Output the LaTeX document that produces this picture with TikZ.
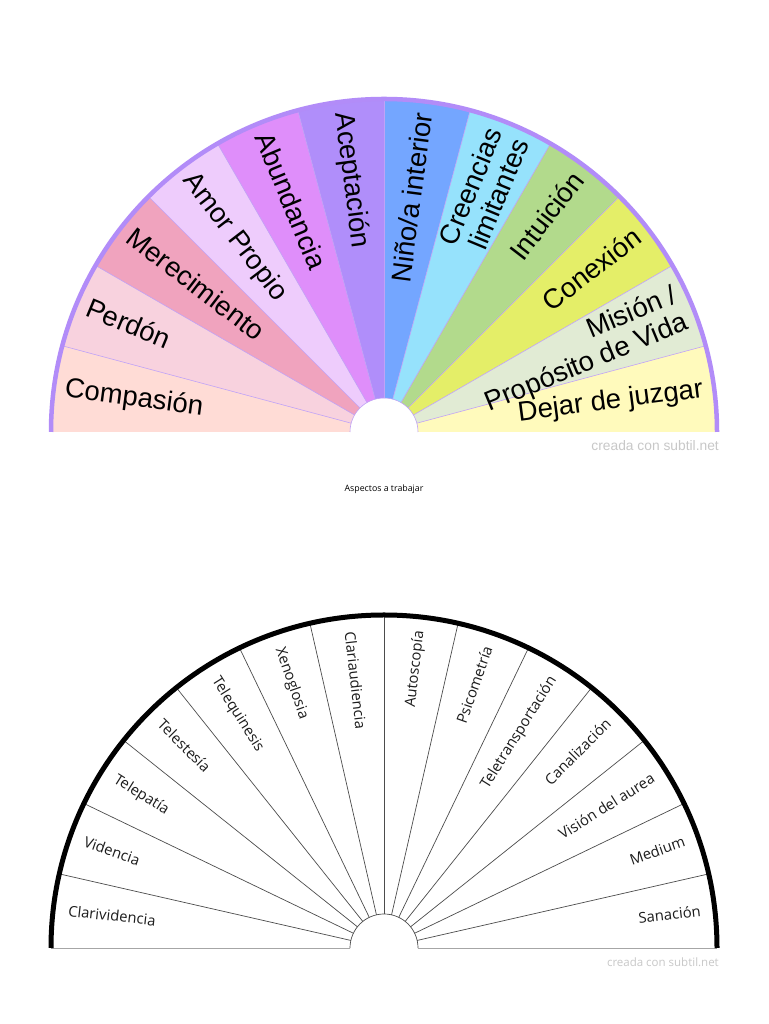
\documentclass[tikz,border=0pt]{standalone}
\usepackage{fontspec}
\setmainfont{Liberation Sans}
\newfontfamily\osans{Open Sans}
\definecolor{c1}{RGB}{255,220,214}
\definecolor{c2}{RGB}{248,210,222}
\definecolor{c3}{RGB}{240,163,190}
\definecolor{c4}{RGB}{238,204,252}
\definecolor{c5}{RGB}{223,142,250}
\definecolor{c6}{RGB}{176,142,250}
\definecolor{c7}{RGB}{116,166,255}
\definecolor{c8}{RGB}{150,226,252}
\definecolor{c9}{RGB}{178,218,140}
\definecolor{c10}{RGB}{228,238,104}
\definecolor{c11}{RGB}{225,235,212}
\definecolor{c12}{RGB}{255,250,188}
\definecolor{lavborder}{RGB}{178,140,248}
\definecolor{lavline}{RGB}{192,162,246}
\definecolor{wmgray}{RGB}{200,200,200}
\definecolor{lblgray}{RGB}{28,28,28}
\begin{document}
\begin{tikzpicture}[x=1pt,y=1pt,
  toplbl/.style={font=\fontsize{27.5}{30}\selectfont, inner sep=0pt, text height=20pt, text depth=6pt},
  toplbltwo/.style={font=\fontsize{27.5}{29}\selectfont, inner sep=0pt, align=right},
  botlbl/.style={font=\osans\fontsize{14.8}{16}\selectfont, text=lblgray, inner sep=0pt, text height=11pt, text depth=3.5pt},
  sepline/.style={lavline, line width=0.6pt},
  gline/.style={black!70, line width=0.7pt},
  watermark/.style={text=wmgray, inner sep=0pt}]
\useasboundingbox (0,0) rectangle (768,1024);
\fill[white] (0,0) rectangle (768,1024);

% ---------- top chart ----------
\begin{scope}[shift={(384,592)}]
\foreach \i/\c in {0/c1,1/c2,2/c3,3/c4,4/c5,5/c6,6/c7,7/c8,8/c9,9/c10,10/c11,11/c12}{
  \pgfmathsetmacro\a{180-15*\i}
  \pgfmathsetmacro\b{165-15*\i}
  \fill[\c] (\b:34) -- (\b:333) arc[start angle=\b,end angle=\a,radius=333] -- (\a:34) arc[start angle=\a,end angle=\b,radius=34] -- cycle;
}
\foreach \k in {1,...,11} \draw[sepline] ({15*\k}:34) -- ({15*\k}:333);
\draw[sepline] (0:34) arc[start angle=0,end angle=180,radius=34];
\draw[lavborder, line width=4.5pt] (0:333) arc[start angle=0,end angle=180,radius=333];

\node[toplbl, rotate=-7.5, anchor=west] (compasion) at (172.5:322) {Compasión};
\node[toplbl, rotate=-22.5, anchor=west] (perdon) at (157.5:322) {Perdón};
\node[toplbl, rotate=-37.5, anchor=west] (merecimiento) at (142.5:322) {Merecimiento};
\node[toplbl, rotate=-52.5, anchor=west] (amorpropio) at (127.5:322) {Amor Propio};
\node[toplbl, rotate=-67.5, anchor=west] (abundancia) at (112.5:322) {Abundancia};
\node[toplbl, rotate=-82.5, anchor=west] (aceptacion) at (97.5:322) {Aceptación};
\node[toplbl, rotate=82.5, anchor=east] (nino) at (82.5:322) {Niño/a interior};
\node[toplbltwo, rotate=67.5, anchor=east] (creencias) at (67.5:322) {Creencias\\limitantes};
\node[toplbl, rotate=52.5, anchor=east] (intuicion) at (52.5:322) {Intuición};
\node[toplbl, rotate=37.5, anchor=east] (conexion) at (37.5:322) {Conexión};
\node[toplbltwo, rotate=22.5, anchor=east] (mision) at (22.5:322) {Misión /\\Propósito de Vida};
\node[toplbl, rotate=7.5, anchor=east] (dejar) at (7.5:322) {Dejar de juzgar};
\end{scope}

\node[watermark, anchor=base east, font=\fontsize{13.8}{15}\selectfont] (wmtop) at (719,573) {creada con subtil.net};
\node[anchor=base, inner sep=0pt, font=\osans\fontsize{8.8}{10}\selectfont] (caption) at (384,532) {Aspectos a trabajar};

% ---------- bottom chart ----------
\begin{scope}[shift={(384,76)}]
\foreach \k in {1,...,13} \draw[gline] ({\k*180/14}:34) -- ({\k*180/14}:333);
\draw[gline] (0:34) arc[start angle=0,end angle=180,radius=34];
\draw[black!35, line width=0.8pt] (-333,0) -- (-34,0);
\draw[black!35, line width=0.8pt] (34,0) -- (333,0);
\draw[black, line width=5pt] (0:333) arc[start angle=0,end angle=180,radius=333];

\node[botlbl, rotate=-6.429, anchor=west] (clarividencia) at (173.571:318) {Clarividencia};
\node[botlbl, rotate=-19.286, anchor=west] (videncia) at (160.714:318) {Videncia};
\node[botlbl, rotate=-32.143, anchor=west] (telepatia) at (147.857:318) {Telepatía};
\node[botlbl, rotate=-45, anchor=west] (telestesia) at (135:318) {Telestesía};
\node[botlbl, rotate=-57.857, anchor=west] (telequinesis) at (122.143:318) {Telequinesis};
\node[botlbl, rotate=-70.714, anchor=west] (xenoglosia) at (109.286:318) {Xenoglosia};
\node[botlbl, rotate=-83.571, anchor=west] (clariaudiencia) at (96.429:318) {Clariaudiencia};
\node[botlbl, rotate=83.571, anchor=east] (autoscopia) at (83.571:319) {Autoscopía};
\node[botlbl, rotate=70.714, anchor=east] (psicometria) at (70.714:319) {Psicometría};
\node[botlbl, rotate=57.857, anchor=east] (teletransportacion) at (57.857:319) {Teletransportación};
\node[botlbl, rotate=45, anchor=east] (canalizacion) at (45:319) {Canalización};
\node[botlbl, rotate=32.143, anchor=east] (vision) at (32.143:319) {Visión del aurea};
\node[botlbl, rotate=19.286, anchor=east] (medium) at (19.286:319) {Medium};
\node[botlbl, rotate=6.429, anchor=east] (sanacion) at (6.429:319) {Sanación};
\end{scope}

\node[watermark, anchor=base east, font=\osans\fontsize{11.5}{13}\selectfont] (wmbot) at (719,57) {creada con subtil.net};
\end{tikzpicture}
\end{document}
